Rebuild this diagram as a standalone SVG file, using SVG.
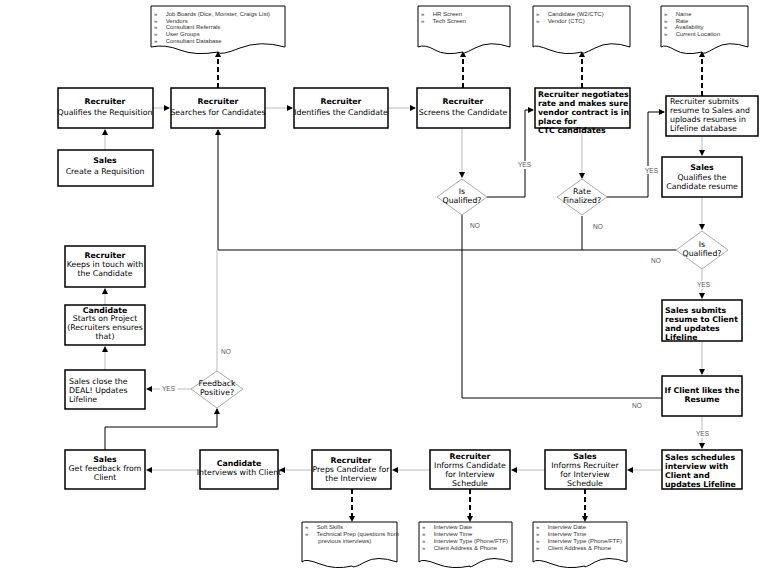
<svg xmlns="http://www.w3.org/2000/svg" width="768" height="576" viewBox="0 0 768 576">
<style>
text{font-family:"DejaVu Sans",sans-serif;font-size:7.8px;fill:#000}
.b{font-weight:bold}
.box rect{fill:#fff;stroke:#000;stroke-width:1.5}
.dia polygon{fill:#fff;stroke:#aaa;stroke-width:1}
.doc path{fill:#fff;stroke:#000;stroke-width:1}
.doc text{font-family:"Liberation Sans",sans-serif;font-size:6px;fill:#333;white-space:pre}
.l{fill:none;stroke:#bbb;stroke-width:1}
.k{fill:none;stroke:#000;stroke-width:1}
.d{fill:none;stroke:#000;stroke-width:2;stroke-dasharray:5,3}
.lab{font-family:"Liberation Sans",sans-serif;font-size:6.5px;fill:#555}
</style>
<defs>
<marker id="a" markerWidth="6" markerHeight="6" refX="5" refY="3" orient="auto" markerUnits="userSpaceOnUse"><path d="M0,0L6,3L0,6z" fill="#000"/></marker>
</defs>
<g id="connectors">
<path class="l" d="M153,108H169" marker-end="url(#a)"/>
<path class="l" d="M265,108H292" marker-end="url(#a)"/>
<path class="l" d="M388,108H415" marker-end="url(#a)"/>
<path class="l" d="M105,150V130" marker-end="url(#a)"/>
<path class="l" d="M462,128V177" marker-end="url(#a)"/>
<path class="k" d="M487,197H525V110H533" marker-end="url(#a)"/>
<path class="l" d="M582,130V178" marker-end="url(#a)"/>
<path class="k" d="M607,197H648V112H664" marker-end="url(#a)"/>
<path class="l" d="M702,136V155" marker-end="url(#a)"/>
<path class="l" d="M702,197V229" marker-end="url(#a)"/>
<path class="k" d="M678,250H218V130" marker-end="url(#a)"/>
<path class="k" d="M582,216V250"/>
<path class="k" d="M462,215V398H662"/>
<path class="l" d="M702,269V298" marker-end="url(#a)"/>
<path class="l" d="M702,341V374" marker-end="url(#a)"/>
<path class="l" d="M702,416V448" marker-end="url(#a)"/>
<path class="l" d="M662,470H628" marker-end="url(#a)"/>
<path class="l" d="M545,470H512" marker-end="url(#a)"/>
<path class="l" d="M430,470H393" marker-end="url(#a)"/>
<path class="l" d="M312,470H280" marker-end="url(#a)"/>
<path class="l" d="M200,470H147" marker-end="url(#a)"/>
<path class="k" d="M105,450V427H217V409" marker-end="url(#a)"/>
<path class="l" d="M217,371V250"/>
<path class="l" d="M192,389H147" marker-end="url(#a)"/>
<path class="l" d="M105,370V347" marker-end="url(#a)"/>
<path class="l" d="M105,305V289" marker-end="url(#a)"/>
<path class="d" d="M218,88V52" marker-end="url(#a)"/>
<path class="d" d="M463,88V52" marker-end="url(#a)"/>
<path class="d" d="M582,88V52" marker-end="url(#a)"/>
<path class="d" d="M702,96V52" marker-end="url(#a)"/>
<path class="d" d="M352,489V521" marker-end="url(#a)"/>
<path class="d" d="M470,489V521" marker-end="url(#a)"/>
<path class="d" d="M585,489V521" marker-end="url(#a)"/>
<rect x="516" y="161" width="18" height="8" fill="#fff"/><text class="lab" x="518" y="167">YES</text>
<rect x="643" y="166" width="18" height="8" fill="#fff"/><text class="lab" x="645" y="173">YES</text>
<text class="lab" x="470" y="228">NO</text>
<text class="lab" x="593" y="229">NO</text>
<text class="lab" x="651" y="263">NO</text>
<text class="lab" x="632" y="408">NO</text>
<text class="lab" x="221" y="354">NO</text>
<rect x="696" y="281" width="14" height="8" fill="#fff"/><text class="lab" x="697" y="287">YES</text>
<rect x="695" y="430" width="14" height="8" fill="#fff"/><text class="lab" x="696" y="436">YES</text>
<rect x="160" y="385" width="18" height="8" fill="#fff"/><text class="lab" x="162" y="391">YES</text>
</g>
<g id="n1" class="box"><rect x="58" y="88" width="95" height="40"/><text x="105" y="104" text-anchor="middle" class="b">Recruiter</text><text x="105" y="115" text-anchor="middle">Qualifies the Requisition</text></g>
<g id="n2" class="box"><rect x="171" y="88" width="94" height="40"/><text x="218" y="104" text-anchor="middle" class="b">Recruiter</text><text x="218" y="115" text-anchor="middle">Searches for Candidates</text></g>
<g id="n3" class="box"><rect x="294" y="88" width="94" height="40"/><text x="341" y="104" text-anchor="middle" class="b">Recruiter</text><text x="341" y="115" text-anchor="middle">Identifies the Candidate</text></g>
<g id="n4" class="box"><rect x="417" y="88" width="93" height="40"/><text x="463" y="104" text-anchor="middle" class="b">Recruiter</text><text x="463" y="115" text-anchor="middle">Screens the Candidate</text></g>
<g id="n5" class="box"><rect x="535" y="88" width="95" height="40"/><text x="538" y="97" class="b">Recruiter negotiates</text><text x="538" y="106" class="b">rate and makes sure</text><text x="538" y="115" class="b">vendor contract is in</text><text x="538" y="124" class="b">place for</text><text x="538" y="133" class="b">CTC candidates</text></g>
<g id="n6" class="box"><rect x="666" y="96" width="92" height="40"/><text x="670" y="104">Recruiter submits</text><text x="670" y="113">resume to Sales and</text><text x="670" y="122">uploads resumes in</text><text x="670" y="131">Lifeline database</text></g>
<g id="n7" class="box"><rect x="58" y="150" width="95" height="36"/><text x="105" y="163" text-anchor="middle" class="b">Sales</text><text x="105" y="174" text-anchor="middle">Create a Requisition</text></g>
<g id="n8" class="box"><rect x="662" y="157" width="80" height="40"/><text x="702" y="170" text-anchor="middle" class="b">Sales</text><text x="702" y="180" text-anchor="middle">Qualifies the</text><text x="702" y="189" text-anchor="middle">Candidate resume</text></g>
<g id="d1" class="dia"><polygon points="462,179 487,197 462,215 437,197"/><text x="462" y="194" text-anchor="middle">Is</text><text x="462" y="203" text-anchor="middle">Qualified?</text></g>
<g id="d2" class="dia"><polygon points="582,179 607,197 582,215 557,197"/><text x="582" y="194" text-anchor="middle">Rate</text><text x="582" y="203" text-anchor="middle">Finalized?</text></g>
<g id="d3" class="dia"><polygon points="702,231 728,250 702,269 676,250"/><text x="702" y="247" text-anchor="middle">Is</text><text x="702" y="256" text-anchor="middle">Qualified?</text></g>
<g id="n9" class="box"><rect x="662" y="300" width="80" height="41"/><text x="665" y="313" class="b">Sales submits</text><text x="665" y="322" class="b">resume to Client</text><text x="665" y="331" class="b">and updates</text><text x="665" y="340" class="b">Lifeline</text></g>
<g id="n10" class="box"><rect x="662" y="376" width="80" height="40"/><text x="702" y="393" text-anchor="middle" class="b">If Client likes the</text><text x="702" y="402" text-anchor="middle" class="b">Resume</text></g>
<g id="n11" class="box"><rect x="662" y="450" width="80" height="39"/><text x="665" y="460" class="b">Sales schedules</text><text x="665" y="469" class="b">interview with</text><text x="665" y="478" class="b">Client and</text><text x="665" y="487" class="b">updates Lifeline</text></g>
<g id="n12" class="box"><rect x="545" y="450" width="81" height="39"/><text x="585" y="459" text-anchor="middle" class="b">Sales</text><text x="585" y="468" text-anchor="middle">Informs Recruiter</text><text x="585" y="477" text-anchor="middle">for Interview</text><text x="585" y="486" text-anchor="middle">Schedule</text></g>
<g id="n13" class="box"><rect x="430" y="450" width="80" height="39"/><text x="470" y="459" text-anchor="middle" class="b">Recruiter</text><text x="470" y="468" text-anchor="middle">Informs Candidate</text><text x="470" y="477" text-anchor="middle">for Interview</text><text x="470" y="486" text-anchor="middle">Schedule</text></g>
<g id="n14" class="box"><rect x="312" y="450" width="79" height="39"/><text x="351" y="463" text-anchor="middle" class="b">Recruiter</text><text x="351" y="472" text-anchor="middle">Preps Candidate for</text><text x="351" y="481" text-anchor="middle">the Interview</text></g>
<g id="n15" class="box"><rect x="200" y="450" width="78" height="39"/><text x="239" y="466" text-anchor="middle" class="b">Candidate</text><text x="239" y="475" text-anchor="middle">Interviews with Client</text></g>
<g id="n16" class="box"><rect x="65" y="450" width="80" height="39"/><text x="105" y="462" text-anchor="middle" class="b">Sales</text><text x="105" y="471" text-anchor="middle">Get feedback from</text><text x="105" y="480" text-anchor="middle">Client</text></g>
<g id="d4" class="dia"><polygon points="217,371 243,389 217,408 191,389"/><text x="217" y="386" text-anchor="middle">Feedback</text><text x="217" y="395" text-anchor="middle">Positive?</text></g>
<g id="n17" class="box"><rect x="65" y="370" width="80" height="39"/><text x="69" y="384">Sales close the</text><text x="69" y="393">DEAL! Updates</text><text x="69" y="402">Lifeline</text></g>
<g id="n18" class="box"><rect x="65" y="305" width="80" height="40"/><text x="105" y="313" text-anchor="middle" class="b">Candidate</text><text x="105" y="321" text-anchor="middle">Starts on Project</text><text x="105" y="330" text-anchor="middle">(Recruiters ensures</text><text x="105" y="339" text-anchor="middle">that)</text></g>
<g id="n19" class="box"><rect x="65" y="246" width="80" height="41"/><text x="105" y="258" text-anchor="middle" class="b">Recruiter</text><text x="105" y="267" text-anchor="middle">Keeps in touch with</text><text x="105" y="276" text-anchor="middle">the Candidate</text></g>
<g id="doc1" class="doc"><path d="M151,6H285V47Q260,40 240,48T218,52Q195,56 180,50T151,47Z"/><text x="154" y="16">»     Job Boards (Dice, Monster, Craigs List)</text><text x="154" y="23">»     Vendors</text><text x="154" y="29">»     Consultant Referrals</text><text x="154" y="36">»     User Groups</text><text x="154" y="43">»     Consultant Database</text></g>
<g id="doc2" class="doc"><path d="M418,6H510V47Q490,40 475,48T463,52Q445,56 435,50T418,47Z"/><text x="421" y="16">»     HR Screen</text><text x="421" y="23">»     Tech Screen</text></g>
<g id="doc3" class="doc"><path d="M533,6H630V47Q610,40 595,48T582,52Q565,56 550,50T533,47Z"/><text x="536" y="16">»     Candidate (W2/CTC)</text><text x="536" y="23">»     Vendor (CTC)</text></g>
<g id="doc4" class="doc"><path d="M661,6H748V47Q728,40 715,48T702,52Q685,56 675,50T661,47Z"/><text x="664" y="16">»     Name</text><text x="664" y="23">»     Rate</text><text x="664" y="29">»     Availability</text><text x="664" y="36">»     Current Location</text></g>
<g id="doc5" class="doc"><path d="M302,522H397V562Q377,555 365,562T352,566Q335,570 320,564T302,562Z"/><text x="305" y="529">»     Soft Skills</text><text x="305" y="536">»     Technical Prep (questions from</text><text x="305" y="543">        previous interviews)</text></g>
<g id="doc6" class="doc"><path d="M419,522H512V562Q492,555 480,562T470,566Q452,570 437,564T419,562Z"/><text x="422" y="529">»     Interview Date</text><text x="422" y="536">»     Interview Time</text><text x="422" y="543">»     Interview Type (Phone/FTF)</text><text x="422" y="550">»     Client Address &amp; Phone</text></g>
<g id="doc7" class="doc"><path d="M533,522H627V562Q607,555 595,562T585,566Q567,570 552,564T533,562Z"/><text x="536" y="529">»     Interview Date</text><text x="536" y="536">»     Interview Time</text><text x="536" y="543">»     Interview Type (Phone/FTF)</text><text x="536" y="550">»     Client Address &amp; Phone</text></g>
</svg>
